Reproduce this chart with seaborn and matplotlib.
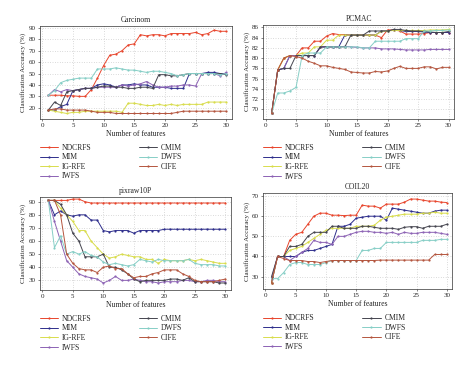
import numpy as np
import pandas as pd
import seaborn as sns
import matplotlib.pyplot as plt

############################
# 1. Data
############################

n_features = list(range(1, 31))
methods = ["NDCRFS", "MIM", "IG-RFE", "IWFS", "CMIM", "DWFS", "CIFE"]
colors = ["#e8452c", "#2e2e8c", "#d8dc4c", "#8c62b4", "#45454f", "#86cec6", "#b4553e"]

# Carcinom
carcinom_ndcrfs = [31, 31, 31, 30.5, 30.5, 30, 30, 36, 46, 57, 66, 67, 70, 75, 76, 84, 83, 84, 84, 83, 85, 85, 85, 85, 86, 84, 85, 88, 87, 87]
carcinom_mim = [18, 18, 21, 23, 35, 36, 37, 37, 40, 41, 40, 38, 40, 40, 41, 40, 40, 38, 38, 38, 37, 37, 37, 50, 50, 50, 51, 51, 50, 50]
carcinom_igrfe = [18, 17, 16, 15, 16, 16, 17, 17, 17, 17, 17, 17, 16, 24, 24, 23, 22, 22, 23, 22, 23, 22, 23, 23, 23, 23, 25, 25, 25, 25]
carcinom_iwfs = [31, 36, 34, 36, 35, 36, 37, 37, 38, 38, 38, 38, 40, 39, 40, 41, 43, 40, 38, 38, 39, 39, 40, 40, 39, 50, 50, 50, 48, 51]
carcinom_cmim = [18, 25, 22, 34, 35, 36, 37, 37, 38, 39, 39, 38, 38, 37, 37, 38, 38, 37, 49, 49, 48, 48, 49, 50, 50, 50, 50, 50, 50, 49]
carcinom_dwfs = [31, 35, 42, 44, 45, 46, 46, 46, 54, 54, 54, 55, 54, 53, 53, 52, 51, 52, 52, 51, 50, 48, 49, 50, 50, 50, 50, 50, 49, 50]
carcinom_cife = [18, 19, 19, 18, 18, 18, 18, 17, 16, 16, 16, 15, 15, 15, 15, 15, 15, 15, 15, 15, 15, 16, 17, 17, 17, 17, 17, 17, 17, 17]

# PCMAC
pcmac_ndcrfs = [69.2, 77.7, 80, 80.5, 80.5, 82, 82, 83.3, 83.3, 84.3, 84.8, 84.6, 84.6, 84.5, 84.5, 84.5, 84.5, 84.5, 84, 85.5, 85.5, 85.3, 84.7, 84.7, 84.7, 84.8, 85, 85, 85, 85]
pcmac_mim = [69.2, 77.7, 78, 80.5, 80.5, 80.5, 80.5, 80.5, 82.2, 82.2, 82.2, 82.2, 84.5, 84.5, 84.5, 84.5, 84.5, 84.5, 85.3, 85.3, 85.5, 85.4, 85.2, 85.2, 85.2, 85.1, 85, 85, 85, 85]
pcmac_igrfe = [69.2, 77.7, 80, 80.5, 80.5, 81, 81, 82.2, 82.2, 83.5, 83.5, 84.5, 84.5, 84.5, 84.5, 84.5, 84.5, 84.5, 85.2, 85.3, 85.4, 85.4, 85.4, 85.4, 85.4, 85.4, 85.5, 85.5, 85.5, 85.6]
pcmac_iwfs = [69.2, 77.7, 78, 80.5, 80.5, 80.5, 80.5, 80.5, 82.1, 82.2, 82.2, 82.2, 82.3, 82.2, 82.1, 82, 82, 82, 81.8, 81.8, 81.8, 81.7, 81.6, 81.6, 81.6, 81.6, 81.7, 81.7, 81.7, 81.7]
pcmac_cmim = [69.2, 77.7, 78, 78, 80.5, 80.5, 80.5, 80.5, 82.2, 82.2, 82.2, 82.2, 82.2, 84.5, 84.5, 84.5, 85.3, 85.3, 85.3, 85.3, 85.6, 85.6, 85.4, 85.3, 85.3, 85.2, 85.1, 85, 85, 85.2]
pcmac_dwfs = [69.2, 73.2, 73.2, 73.6, 74.3, 80.5, 81, 81, 81, 82.2, 82.2, 82.2, 82.2, 82.2, 82.2, 82, 82, 83.3, 83.3, 83.3, 83.3, 83.3, 83.8, 83.8, 83.8, 85.3, 85.3, 85.4, 85.4, 85.5]
pcmac_cife = [69.2, 77.7, 80, 80.5, 80.3, 80, 79.4, 79, 78.5, 78.5, 78.2, 78, 77.8, 77.3, 77.2, 77.1, 77.1, 77.4, 77.3, 77.5, 78, 78.4, 78, 78, 78, 78.3, 78.3, 77.9, 78.2, 78.2]

# pixraw10P
pixraw_ndcrfs = [91, 91, 91, 91, 92, 92, 90] + [89] * 23
pixraw_mim = [91, 80, 83, 80, 79, 80, 80, 76, 76, 68, 67, 68, 68, 68, 66, 68, 68, 68, 68, 69, 69, 69, 69, 69, 69, 69, 69, 69, 69, 69]
pixraw_igrfe = [91, 91, 85, 80, 75, 68, 68, 60, 55, 50, 47, 48, 50, 49, 48, 48, 46, 46, 43, 46, 45, 45, 45, 46, 45, 46, 45, 44, 43, 43]
pixraw_iwfs = [91, 75, 60, 45, 40, 35, 33, 32, 31, 28, 30, 33, 30, 30, 31, 30, 29, 29, 28, 29, 29, 29, 30, 30, 29, 29, 30, 30, 29, 29]
pixraw_cmim = [91, 91, 88, 80, 66, 60, 48, 48, 48, 50, 40, 40, 38, 35, 31, 29, 30, 30, 30, 30, 31, 31, 30, 32, 29, 29, 29, 29, 28, 28]
pixraw_dwfs = [91, 55, 64, 50, 52, 50, 52, 49, 48, 44, 42, 43, 42, 41, 42, 46, 45, 44, 46, 45, 45, 45, 45, 46, 43, 42, 42, 42, 41, 41]
pixraw_cife = [91, 91, 80, 50, 43, 39, 38, 38, 36, 40, 41, 39, 39, 35, 32, 33, 33, 35, 36, 38, 38, 38, 35, 33, 30, 29, 29, 29, 30, 31]

# COIL20
coil_ndcrfs = [27, 40, 40, 48, 51, 52, 56, 60, 61.5, 61.5, 60.5, 60.5, 60.3, 60.5, 60.5, 65.5, 65, 65, 64, 66, 66, 66, 67, 68.5, 68.5, 68, 67.5, 67.5, 67, 66.8]
coil_mim = [27, 40, 40, 40, 40, 42, 43, 43, 44, 45, 46, 55, 55, 56, 59, 59.5, 60, 60, 60, 58, 64, 63.5, 63, 62.5, 62, 61.5, 61.5, 62.5, 63, 63]
coil_igrfe = [27, 40, 40, 43, 44, 45, 47, 49, 51, 53, 54, 54, 54, 54, 55, 55, 55, 55.5, 58, 59.5, 60, 60.5, 61, 61, 61, 61.5, 61.5, 62, 61.5, 61.5]
coil_iwfs = [29, 40, 40, 38, 40, 42, 44, 48, 47, 47, 46, 50, 50, 51, 52, 52.5, 52.5, 52, 52, 51.5, 52, 51, 52, 51.5, 51.5, 52, 52, 52, 51.5, 51]
coil_cmim = [30, 40, 40, 45, 45, 46, 50, 52, 52, 52, 55, 55, 54, 54, 54, 55, 55, 54.5, 54, 54, 54, 53.5, 54.5, 54.8, 54.8, 54, 55, 55, 55, 56]
coil_dwfs = [29, 29, 32, 36, 37, 37, 36, 36, 36, 37, 38, 38, 38, 38, 38, 43, 43, 44, 44, 47, 47, 47, 47, 47, 47, 48, 48, 48, 48.5, 48.5]
coil_cife = [27, 40, 39, 38, 38, 38, 37.5, 37.5, 37, 37.5, 38, 38, 38, 38, 38, 38, 38, 38, 38.2, 38.2, 38.2, 38.2, 38.2, 38.2, 38.2, 38.2, 38.2, 41, 41, 41]

panels = [
    ("Carcinom", [carcinom_ndcrfs, carcinom_mim, carcinom_igrfe, carcinom_iwfs, carcinom_cmim, carcinom_dwfs, carcinom_cife],
     (10.5, 91.7), list(range(20, 91, 10))),
    ("PCMAC", [pcmac_ndcrfs, pcmac_mim, pcmac_igrfe, pcmac_iwfs, pcmac_cmim, pcmac_dwfs, pcmac_cife],
     (68.2, 86.5), list(range(70, 87, 2))),
    ("pixraw10P", [pixraw_ndcrfs, pixraw_mim, pixraw_igrfe, pixraw_iwfs, pixraw_cmim, pixraw_dwfs, pixraw_cife],
     (22.8, 93.8), list(range(30, 91, 10))),
    ("COIL20", [coil_ndcrfs, coil_mim, coil_igrfe, coil_iwfs, coil_cmim, coil_dwfs, coil_cife],
     (24, 71.3), list(range(30, 71, 10))),
]

############################
# 2. Plot
############################

sns.set_style("ticks")
plt.rcParams["font.family"] = ["Liberation Serif", "DejaVu Serif"]

fig = plt.figure(figsize=(4.74, 3.65), dpi=100)

# axes boxes [left, bottom, width, height] in figure fractions
boxes = [
    [0.084, 0.675, 0.405, 0.254],
    [0.555, 0.675, 0.403, 0.257],
    [0.084, 0.206, 0.403, 0.255],
    [0.555, 0.209, 0.399, 0.261],
]

for (title, series, ylim, yticks), box in zip(panels, boxes):
    ax = fig.add_axes(box)
    long_df = pd.DataFrame(
        {
            "Number of features": n_features * len(methods),
            "acc": sum(series, []),
            "method": np.repeat(methods, len(n_features)),
        }
    )
    sns.lineplot(
        data=long_df,
        x="Number of features",
        y="acc",
        hue="method",
        hue_order=methods,
        palette=colors,
        marker="o",
        markersize=1.6,
        markeredgewidth=0,
        linewidth=0.7,
        ax=ax,
    )
    ax.set_xlim(-0.4, 30.9)
    ax.set_ylim(*ylim)
    ax.set_xticks(range(0, 31, 5))
    ax.set_yticks(yticks)
    ax.grid(True, linestyle=(0, (1, 2.5)), color="#b8b8b8", linewidth=0.5)
    ax.tick_params(labelsize=5, length=1.5, width=0.4, pad=1.5)
    for s in ax.spines.values():
        s.set_linewidth(0.5)
        s.set_color("#333333")
    ax.set_title(title, fontsize=5.5, pad=3)
    ax.set_xlabel("Number of features", fontsize=5.5, labelpad=1.5)
    ax.set_ylabel("Classification Accuracy (%)", fontsize=5, labelpad=1.5)

    # legend below each panel, two columns
    handles, labels = ax.get_legend_handles_labels()
    ax.legend(
        handles,
        labels,
        ncol=2,
        loc="upper left",
        bbox_to_anchor=(0.0, -0.27),
        frameon=False,
        fontsize=5.5,
        handlelength=2.4,
        handletextpad=0.5,
        columnspacing=6.2,
        labelspacing=0.2,
        borderaxespad=0,
        borderpad=0,
    )

plt.savefig("out.png", dpi=100)
